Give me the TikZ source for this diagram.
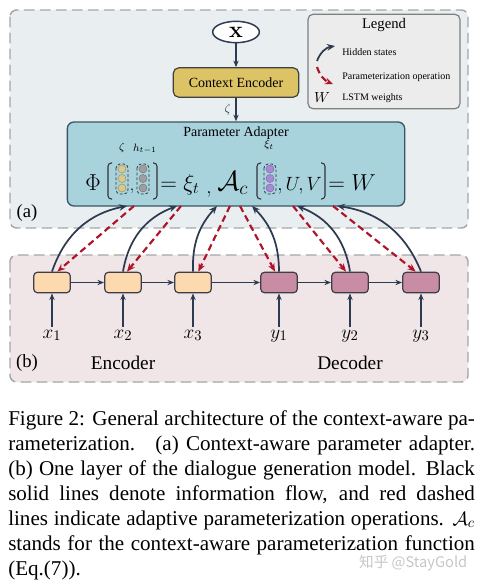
\documentclass[tikz,border=0pt]{standalone}
\usepackage[no-math]{fontspec}
\setmainfont{Liberation Serif}
\newfontfamily\cjkfont{Noto Sans CJK SC}
\usepackage{amsmath}
\usepackage{amssymb}
\usetikzlibrary{arrows.meta, positioning, shapes.geometric, calc, backgrounds}
\definecolor{afill}{HTML}{E9EFF1}
\definecolor{bfill}{HTML}{F0E6E8}
\definecolor{regline}{HTML}{A6A6A6}
\definecolor{legfill}{HTML}{ECECEC}
\definecolor{legline}{HTML}{7F7F7F}
\definecolor{ctxgold}{HTML}{DCC466}
\definecolor{adaptblue}{HTML}{A8D3DD}
\definecolor{adaptline}{HTML}{3A5664}
\definecolor{encfill}{HTML}{FCD9AF}
\definecolor{decfill}{HTML}{C88DA3}
\definecolor{cellline}{HTML}{3D3D4A}
\definecolor{hidcol}{HTML}{2D3A50}
\definecolor{parred}{HTML}{B01228}
\definecolor{vecyel}{HTML}{D8C88A}
\definecolor{vecgray}{HTML}{9E9E9E}
\definecolor{vecpurp}{HTML}{A98AD8}

\begin{document}
\begin{tikzpicture}[x=0.75pt, y=-0.75pt,
    region/.style={draw=regline, line width=1.1pt, dash pattern=on 8pt off 4pt, rounded corners=5pt},
    hid/.style={-{Stealth[length=6pt, width=5pt]}, line width=1.3pt, hidcol},
    par/.style={-{Stealth[length=6pt, width=5pt]}, line width=1.6pt, parred, dash pattern=on 5pt off 3pt},
    flow/.style={-{Stealth[length=5pt, width=4pt]}, line width=0.9pt, hidcol},
    encell/.style={draw=cellline, line width=0.9pt, fill=encfill, rounded corners=3pt, minimum width=27.5pt, minimum height=15.5pt},
    decell/.style={encell, fill=decfill},
    legtext/.style={anchor=west, inner sep=0pt, font=\fontsize{7.5}{9}\selectfont},
    brk/.style={line width=0.8pt, draw=black!80, rounded corners=2.5pt},
    vecbox/.style={draw=black!80, line width=0.6pt, dash pattern=on 2pt off 1.5pt, rounded corners=3pt},
    fml/.style={anchor=base west, inner sep=0pt, font=\fontsize{18}{20}\selectfont}]
    \useasboundingbox (0,0) rectangle (485,588);

    % the two parts
    \draw[region, fill=afill] (10,10) rectangle (468,228);
    \draw[region, fill=bfill] (10,255) rectangle (468,382);
    \node[font=\fontsize{14}{16}\selectfont] (alab) at (27,213) {(a)};
    \node[font=\fontsize{14}{16}\selectfont] (blab) at (27,363) {(b)};

    % legend
    \node[draw=legline, fill=legfill, rounded corners=4pt, line width=0.9pt, minimum width=114pt, minimum height=71pt] (legend) at (384,61.5) {};
    \node[font=\fontsize{11}{13}\selectfont] (legtitle) at (384,25) {Legend};
    \coordinate (lh0) at (317,61);
    \coordinate (lh1) at (335,46);
    \coordinate (lp0) at (317,67);
    \coordinate (lp1) at (333,84);
    \draw[hid] (lh0) to[bend left=30] (lh1);
    \draw[par] (lp0) to[bend right=25] (lp1);
    \node[legtext] (legh) at (342,52) {Hidden states};
    \node[legtext] (legp) at (342,77) {Parameterization operation};
    \node[font=\fontsize{11}{13}\selectfont] (legw) at (322,98) {$W$};
    \node[legtext] (legl) at (342,98) {LSTM weights};

    % context side
    \node[draw=hidcol, line width=1.1pt, fill=white, ellipse, minimum width=35pt, minimum height=16pt, inner sep=0pt, font=\fontsize{16}{18}\selectfont] (x) at (236,32) {$\mathbf{x}$};
    \node[draw=black!75, line width=0.9pt, fill=ctxgold, rounded corners=4pt, minimum width=94pt, minimum height=22pt, font=\fontsize{10.5}{12}\selectfont] (ctx) at (236,82.5) {Context Encoder};
    \node[draw=adaptline, line width=1pt, fill=adaptblue, rounded corners=5pt, minimum width=253pt, minimum height=63pt] (adapter) at (236,164) {};
    \node[font=\fontsize{10.5}{12}\selectfont] (adtitle) at (236,133) {Parameter Adapter};
    \draw[flow] (x) -- (ctx);
    \draw[flow] (ctx) -- node[left, font=\fontsize{9}{10}\selectfont] {$\zeta$} (adapter);

    % formula
    \node[fml] (phi) at (85,190) {$\Phi$};
    \draw[brk] (112,163) -- (108,163) -- (108,199) -- (112,199);
    \draw[brk] (153,163) -- (157,163) -- (157,199) -- (153,199);
    \draw[brk] (261,163) -- (257,163) -- (257,199) -- (261,199);
    \draw[brk] (321,163) -- (325,163) -- (325,199) -- (321,199);
    \foreach \cx/\cc in {122/vecyel, 143/vecgray, 270/vecpurp} {
        \draw[vecbox] (\cx-6,164) rectangle (\cx+6,194);
        \foreach \cy in {169,178.5,188}
            \fill[\cc, draw=\cc!70!black, line width=0.3pt] (\cx,\cy) circle[radius=3pt];
    }
    \node[anchor=base, inner sep=0pt, font=\fontsize{12}{14}\selectfont] (cm1) at (132,190) {$,$};
    \node[fml] (eqxi) at (160,190) {$=\xi_t$};
    \node[anchor=base, inner sep=0pt, font=\fontsize{14}{16}\selectfont] (cm2) at (209,193) {$,$};
    \node[fml, font=\fontsize{21}{23}\selectfont] (ac) at (217,190) {$\mathcal{A}_c$};
    \node[anchor=base west, inner sep=0pt, font=\fontsize{14}{16}\selectfont] (uv) at (277,190) {$,U,V$};
    \node[fml] (eqw) at (328,190) {$=W$};
    \node[font=\fontsize{8}{9}\selectfont] (zlab) at (122,148) {$\zeta$};
    \node[font=\fontsize{8}{9}\selectfont] (hlab) at (145,149) {$h_{t-1}$};
    \node[font=\fontsize{8}{9}\selectfont] (xilab) at (269,145) {$\xi_t$};

    % dialogue model
    \foreach \n/\cx in {e1/52, e2/123, e3/193}
        \node[encell] (\n) at (\cx,282.5) {};
    \foreach \n/\cx in {d1/279, d2/350, d3/421}
        \node[decell] (\n) at (\cx,282.5) {};
    \foreach \a/\b in {e1/e2, e2/e3, e3/d1, d1/d2, d2/d3}
        \draw[flow] (\a) -- (\b);
    \foreach \n/\cx/\t in {i1/52/x_1, i2/123/x_2, i3/193/x_3, o1/279/y_1, o2/350/y_2, o3/421/y_3}
        \node[anchor=base, font=\fontsize{15}{17}\selectfont, inner sep=1pt, text height=7pt] (\n) at (\cx,338) {$\t$};
    \foreach \a/\b in {i1/e1, i2/e2, i3/e3, o1/d1, o2/d2, o3/d3}
        \draw[flow] (\a) -- (\b);
    \node[font=\fontsize{14.5}{16}\selectfont] (enclab) at (123,363) {Encoder};
    \node[font=\fontsize{14.5}{16}\selectfont] (declab) at (350,363) {Decoder};

    % hidden states up, parameterization down
    \foreach \n/\hx/\px in {1/127/134, 2/177/181, 3/217/230, 4/252/240, 5/297/293, 6/337/333} {
        \coordinate (h\n) at (\hx,206);
        \coordinate (p\n) at (\px,206);
    }
    \draw[hid] (e1.north) to[bend left=30] (h1);
    \draw[hid] (e2.north) to[bend left=30] (h2);
    \draw[hid] (e3.north) to[bend left=22] (h3);
    \draw[hid] (d1.north) to[bend right=22] (h4);
    \draw[hid] (d2.north) to[bend right=30] (h5);
    \draw[hid] (d3.north) to[bend right=30] (h6);
    \draw[par] (p1) -- ([xshift=4pt]e1.north);
    \draw[par] (p2) -- ([xshift=3pt]e2.north);
    \draw[par] (p3) -- ([xshift=4pt]e3.north);
    \draw[par] (p4) -- ([xshift=-3pt]d1.north);
    \draw[par] (p5) -- ([xshift=-3pt]d2.north);
    \draw[par] (p6) -- ([xshift=-4pt]d3.north);

    % caption
    \node[anchor=north west, inner sep=0pt, text width=350pt, align=justify, font=\fontsize{15.8}{18.75}\selectfont] (caption) at (8,410) {Figure 2: General architecture of the context-aware pa-\linebreak
    rameterization. \ (a) Context-aware parameter adapter.\linebreak
    (b) One layer of the dialogue generation model. Black\linebreak
    solid lines denote information flow, and red dashed\linebreak
    lines indicate adaptive parameterization operations. $\mathcal{A}_c$\linebreak
    stands for the context-aware parameterization function\linebreak
    (Eq.(7)).};
    \node[anchor=east, text=gray!45, font=\cjkfont\fontsize{11}{13}\selectfont] (mark) at (472,563) {知乎 @StayGold};
\end{tikzpicture}
\end{document}
